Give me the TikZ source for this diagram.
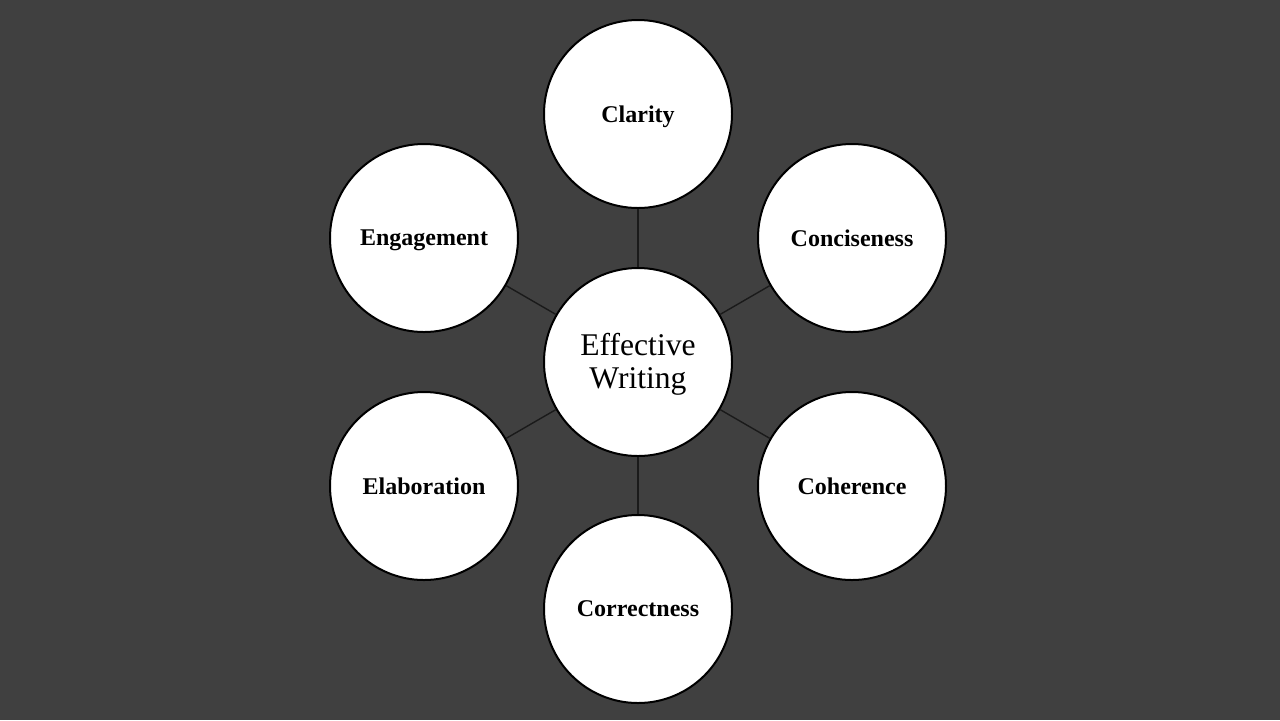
\documentclass[tikz,border=0pt]{standalone}
\usepackage{fontspec}
\setmainfont{Liberation Serif}
\definecolor{bg}{HTML}{404040}
\definecolor{linec}{HTML}{1A1A1A}
\tikzset{
  hub/.style={circle,draw=black,fill=white,line width=1pt,minimum size=94pt,inner sep=0pt,align=center,
    text depth=1pt,font=\fontsize{15.8}{16.2}\selectfont},
  spoke/.style={circle,draw=black,fill=white,line width=1pt,minimum size=94pt,inner sep=0pt,
    text depth=0pt,font=\bfseries\fontsize{12}{13}\selectfont},
  link/.style={draw=linec,line width=0.7pt}
}
\begin{document}
\begin{tikzpicture}[x=0.5pt,y=-0.5pt]
\fill[bg] (0,0) rectangle (1280,720);
\useasboundingbox (0,0) rectangle (1280,720);
\node[hub] (c) at (638,362) {Effective\\Writing};
\node[spoke] (cla) at (638,114) {Clarity};
\node[spoke] (con) at (852,238) {Conciseness};
\node[spoke] (coh) at (852,486) {Coherence};
\node[spoke] (cor) at (638,609) {Correctness};
\node[spoke] (ela) at (424,486) {Elaboration};
\node[spoke] (eng) at (424,238) {Engagement};
\foreach \n in {cla,con,coh,cor,ela,eng} {\draw[link] (c) -- (\n);}
\end{tikzpicture}
\end{document}
